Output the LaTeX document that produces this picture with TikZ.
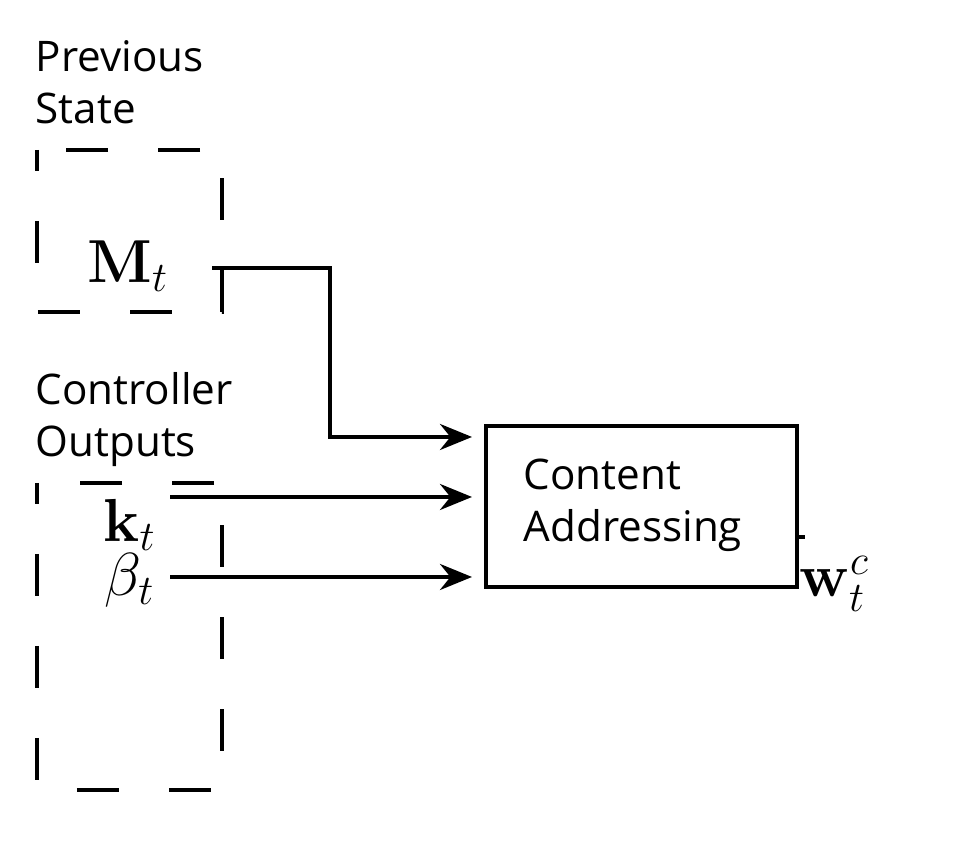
\documentclass[tikz,border=0pt]{standalone}
\usepackage{amsmath}
\usepackage[no-math]{fontspec}
\setmainfont{Open Sans}
\usetikzlibrary{arrows.meta}
\begin{document}
\begin{tikzpicture}[x=1cm,y=1cm]
                            \tikzset{label/.style={align=left, anchor=north west, inner sep=0pt, font=\fontsize{12}{14.8}\selectfont},
                                dashbox/.style={draw, line width=1.1pt, dash pattern=on 0.42cm off 0.5cm, dash phase=0.21cm},
                                conn/.style={draw, line width=1.1pt},
                                arr/.style={conn, -{Stealth[length=0.32cm, width=0.26cm]}},
                                sym/.style={inner sep=0pt, font=\fontsize{17}{18}\selectfont}}
                            \useasboundingbox (0, 0) rectangle (9.7, 8.5);
                            \node[label] (prev) at (0.35, 8.1){Previous\\State};
                            \node[label] (ctrl) at (0.35, 4.78){Controller\\Outputs};
                            \draw[dashbox] (0.37, 7.0) rectangle (2.22, 5.38);
                            \draw[dashbox] (0.37, 3.67) rectangle (2.22, 0.6);
                            \node[sym] (M) at (1.28, 5.84){$\mathbf{M}_t$};
                            \node[sym] (k) at (1.30, 3.25){$\mathbf{k}_t$};
                            \node[sym] (beta) at (1.30, 2.70){$\beta_t$};
                            \node[draw, line width=1.1pt, minimum width=3.11cm, minimum height=1.61cm,
                                anchor=south west] (ca) at (4.84, 2.61){};
                            \node[label] (catext) at (5.23, 3.92){Content\\Addressing};
                            \node[sym, anchor=west] (w) at (7.99, 2.66){$\mathbf{w}_t^c$};
                            \coordinate (mend) at (2.12, 5.82);
                            \coordinate (mbend) at (3.30, 4.13);
                            \coordinate (kend) at (1.70, 3.53);
                            \coordinate (bend) at (1.70, 2.73);
                            \draw[arr] (mend) -| (mbend) -- ([xshift=-0.12cm]ca.west |- mbend);
                            \draw[arr] (kend) -- ([xshift=-0.12cm]ca.west |- kend);
                            \draw[arr] (bend) -- ([xshift=-0.12cm]ca.west |- bend);
                            \draw[conn] (ca.east |- 0, 3.13) -- ++(0.06, 0);
                        \end{tikzpicture}
\end{document}
